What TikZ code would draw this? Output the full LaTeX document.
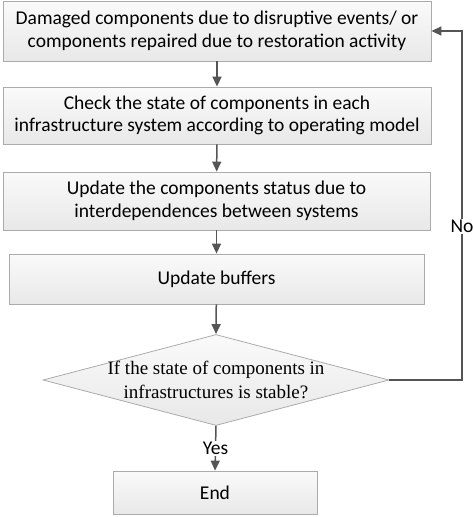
\documentclass[tikz,border=0pt]{standalone}
\usepackage{fontspec}
\setmainfont{Carlito}
\newfontfamily\timesfont{Liberation Serif}
\usetikzlibrary{shapes.geometric,arrows.meta}
\definecolor{linegray}{HTML}{555555}
\definecolor{boxborder}{HTML}{ABABAB}
\begin{document}
\begin{tikzpicture}[x=1pt,y=-1pt,
  stepbox/.style={draw=boxborder,line width=0.8pt,top color=white!98!black,bottom color=white!91!black,
    inner sep=0pt,align=center,font=\fontsize{19.5}{22.5}\selectfont},
  flow/.style={draw=linegray,line width=1.5pt,-{Triangle[length=10pt,width=9pt]}},
  lbl/.style={font=\fontsize{19.5}{22.5}\selectfont,fill=white,inner sep=1pt}]
\useasboundingbox (0,0) rectangle (474,517);
\node[stepbox,minimum width=428,minimum height=60] (b1) at (217,31)
  {Damaged components due to disruptive events/ or\\components repaired due to restoration activity};
\node[stepbox,minimum width=428,minimum height=57] (b2) at (217,115.5)
  {Check the state of components in each\\infrastructure system according to operating model};
\node[stepbox,minimum width=427,minimum height=58] (b3) at (216.5,201)
  {Update the components status due to\\interdependences between systems};
\node[stepbox,minimum width=415,minimum height=50] (b4) at (216.5,279) {Update buffers};
\node[diamond,draw=boxborder,line width=0.8pt,top color=white!98!black,bottom color=white!91!black,
  inner sep=0pt,aspect=3.8,minimum width=346,minimum height=91] (dia) at (216,380) {};
\node[align=center,font=\timesfont\fontsize{19}{24}\selectfont,inner sep=0pt] (diat) at (216,380)
  {If the state of components in\\infrastructures is stable?};
\node[stepbox,minimum width=204,minimum height=43] (end) at (215,492.5) {End};
\draw[flow] (b1) -- (b2);
\draw[flow] (b2) -- (b3);
\draw[flow] (b3) -- (b4);
\draw[flow] (b4) -- (dia.north);
\draw[flow] (dia.south) -- node[lbl]{Yes} (end.north);
\coordinate (loop) at (462,380);
\draw[flow] (dia.east) -- (loop) -- node[lbl,pos=0.44]{No} (loop |- b1.east) -- (b1.east);
\end{tikzpicture}
\end{document}
